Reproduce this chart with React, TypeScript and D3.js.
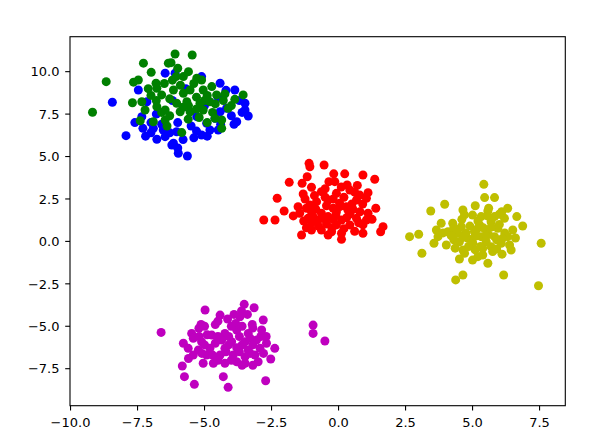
import React from "react";
import * as d3 from "d3";

const bluePoints: [number, number][] = [
  [-7.47, 8.92], [-8.44, 8.2], [-7.93, 6.23], [-7.3, 6.66], [-6.78, 6.02], [-6.47, 6.17],
  [-6.22, 5.68], [-6.47, 9.91], [-7.15, 8.23], [-7.34, 7.35], [-6.91, 6.66], [-6.54, 6.56],
  [-6.1, 9.91], [-5.11, 9.71], [-4.42, 9.32], [-3.87, 8.92], [-3.49, 8.14], [-3.49, 7.74],
  [-3.37, 7.39], [-3.8, 7.05], [-4.18, 7.84], [-4.42, 7.64], [-5.29, 7.35], [-4.92, 6.96],
  [-4.49, 6.56], [-5.11, 6.27], [-6.04, 6.46], [-6.16, 5.78], [-5.98, 5.19], [-5.64, 5.03],
  [-4.61, 7.25], [-4.8, 6.56], [-6.8, 7.5], [-6.0, 7.0], [-5.5, 6.8], [-5.0, 8.0],
  [-4.5, 8.5], [-6.2, 8.3], [-5.7, 9.0], [-7.0, 7.0], [-5.3, 6.5], [-4.0, 7.4],
  [-7.0, 6.4], [-6.6, 6.9], [-6.3, 6.4], [-5.8, 6.0], [-5.4, 6.1], [-4.9, 6.2],
  [-4.4, 6.9], [-3.9, 6.9], [-3.6, 7.6], [-3.7, 8.3], [-4.2, 8.9], [-7.6, 7.0],
  [-7.2, 6.2], [-6.0, 5.5],
];

const greenPoints: [number, number][] = [
  [-7.28, 10.5], [-6.99, 9.96], [-6.35, 10.5], [-6.25, 10.53], [-6.1, 11.04], [-8.67, 9.41],
  [-7.65, 9.38], [-7.47, 9.51], [-6.81, 9.32], [-6.78, 9.02], [-7.69, 8.17], [-7.34, 8.23],
  [-7.22, 7.74], [-9.18, 7.61], [-7.4, 7.11], [-6.91, 7.05], [-6.47, 7.15], [-6.78, 7.94],
  [-6.47, 7.74], [-6.6, 8.63], [-5.46, 10.98], [-6.06, 9.71], [-5.79, 9.71], [-5.29, 9.61],
  [-5.11, 9.51], [-4.73, 9.12], [-4.24, 8.69], [-3.87, 8.37], [-3.56, 8.63], [-6.16, 8.92],
  [-5.79, 8.73], [-5.54, 8.92], [-5.05, 8.92], [-4.55, 8.63], [-6.04, 8.14], [-5.66, 8.23],
  [-5.17, 8.14], [-4.8, 8.23], [-4.12, 7.84], [-5.91, 7.64], [-5.54, 7.64], [-5.05, 7.74],
  [-4.61, 7.25], [-4.36, 7.15], [-4.36, 6.66], [-5.61, 7.2], [-5.85, 6.41], [-6.3, 8.4],
  [-6.5, 9.3], [-5.9, 9.2], [-5.3, 8.5], [-5.0, 8.3], [-4.6, 8.1], [-6.3, 7.4],
  [-5.2, 7.3], [-4.9, 7.0], [-7.0, 8.6], [-5.6, 8.0], [-6.8, 8.3], [-6.2, 9.5],
  [-5.4, 9.3], [-4.9, 8.6], [-4.3, 8.3], [-4.0, 8.0], [-6.6, 7.6], [-5.8, 7.9],
  [-5.3, 7.8], [-4.7, 7.6], [-6.0, 10.2], [-5.6, 10.0], [-7.1, 9.0], [-6.4, 6.8],
];

const redPoints: [number, number][] = [
  [-1.1, 4.6], [-1.07, 4.4], [-0.54, 4.5], [-0.18, 3.98], [0.23, 3.98], [0.91, 3.91],
  [1.35, 3.66], [-1.17, 3.81], [-1.84, 3.48], [-1.36, 3.42], [-0.36, 3.52], [-0.14, 3.52],
  [-1.01, 3.19], [0.32, 3.32], [0.42, 3.03], [-1.32, 2.79], [-0.64, 2.93], [-0.08, 2.83],
  [0.79, 2.73], [1.1, 2.87], [-2.29, 2.54], [-0.82, 2.34], [-0.39, 2.44], [0.04, 2.25],
  [0.67, 2.44], [1.04, 2.54], [-1.51, 2.04], [-1.07, 2.14], [-0.2, 1.95], [0.29, 2.04],
  [0.54, 1.89], [1.39, 1.95], [-2.03, 1.79], [-1.45, 1.66], [-1.01, 1.75], [-0.64, 1.66],
  [-0.08, 1.75], [0.42, 1.61], [1.1, 1.66], [-2.79, 1.26], [-2.37, 1.26], [-1.69, 1.5],
  [-1.14, 1.36], [-0.76, 1.26], [-0.39, 1.46], [0.11, 1.26], [0.67, 1.36], [1.04, 1.26],
  [-1.01, 1.1], [-0.45, 1.03], [-0.08, 0.97], [0.42, 0.97], [0.91, 0.97], [1.66, 0.87],
  [1.57, 0.57], [-1.38, 0.38], [-1.01, 0.67], [-0.64, 0.67], [-0.26, 0.57], [0.11, 0.48],
  [0.11, 0.12], [0.91, 0.48], [-0.39, 0.38], [-1.25, 2.5], [-0.9, 2.7], [-0.5, 2.6],
  [-0.2, 2.5], [0.2, 2.6], [0.6, 2.9], [0.9, 2.2], [-1.2, 1.95], [-0.85, 1.9],
  [-0.45, 2.1], [0.05, 2.05], [0.5, 2.2], [0.8, 1.75], [-1.3, 1.2], [-0.95, 1.45],
  [-0.55, 1.35], [-0.2, 1.3], [0.3, 1.4], [0.75, 1.1], [1.25, 1.3], [-1.2, 0.8],
  [-0.75, 0.9], [-0.25, 0.8], [0.2, 0.75], [0.6, 0.6], [-0.5, 3.1], [0.1, 3.2],
  [0.7, 3.3], [-0.1, 1.55], [0.35, 1.85],
];

const yellowPoints: [number, number][] = [
  [5.42, 3.36], [5.45, 2.58], [5.82, 2.58], [3.96, 2.19], [3.44, 1.79], [4.64, 1.85],
  [4.7, 1.56], [5.57, 1.79], [6.31, 1.95], [6.09, 1.75], [5.32, 1.46], [5.82, 1.46],
  [6.65, 1.46], [3.83, 1.07], [4.26, 1.07], [5.26, 0.97], [5.69, 1.16], [6.19, 1.36],
  [6.87, 0.91], [4.58, 0.87], [3.65, 0.67], [4.08, 0.57], [4.45, 0.48], [5.07, 0.57],
  [5.51, 0.67], [5.94, 0.77], [6.5, 0.67], [2.65, 0.28], [2.99, 0.42], [3.71, 0.28],
  [4.82, 0.18], [5.32, 0.28], [5.82, 0.28], [6.31, 0.28], [3.56, -0.11], [4.02, -0.21],
  [4.51, -0.02], [5.01, -0.11], [5.51, -0.02], [6.07, -0.11], [6.38, -0.21], [7.56, -0.11],
  [4.64, -0.51], [5.38, -0.41], [5.69, -0.31], [6.44, -0.51], [3.11, -0.7], [4.7, -0.7],
  [5.38, -0.8], [4.51, -1.04], [5.57, -1.29], [4.64, -1.98], [4.37, -2.27], [6.16, -1.98],
  [7.46, -2.61], [5.2, 1.2], [5.6, 0.4], [5.3, -0.3], [5.9, 0.1], [4.9, 0.9],
  [6.0, 1.0], [5.1, -0.5], [5.75, -0.6], [5.4, 0.8], [4.3, 0.1], [4.6, 1.3],
  [5.0, 1.55], [5.55, 1.5], [6.0, 1.6], [4.3, 0.8], [4.75, 0.5], [5.15, 0.7],
  [5.7, 0.85], [6.2, 0.5], [4.2, 0.35], [4.65, 0.25], [5.1, 0.3], [5.5, 0.35],
  [6.1, 0.15], [4.35, -0.4], [4.85, -0.3], [5.2, -0.9], [5.9, -0.45], [6.1, -0.75],
  [5.0, -1.1], [5.6, 1.95], [5.1, 2.1], [6.6, 0.2], [3.9, 0.5],
];

const magentaPoints: [number, number][] = [
  [-4.98, -4.04], [-3.52, -3.71], [-3.62, -4.1], [-3.68, -4.44], [-3.15, -3.91], [-4.42, -4.34],
  [-4.14, -4.57], [-2.81, -4.63], [-5.13, -4.89], [-5.21, -5.12], [-3.84, -4.83], [-3.22, -4.89],
  [-6.62, -5.36], [-0.95, -4.93], [-0.95, -5.42], [-0.51, -5.87], [-5.48, -5.42], [-5.42, -5.71],
  [-4.73, -5.52], [-4.24, -5.42], [-3.8, -5.22], [-3.37, -5.42], [-2.87, -5.22], [-5.79, -6.0],
  [-5.11, -5.91], [-4.36, -5.81], [-3.99, -5.91], [-3.49, -5.91], [-3.06, -5.81], [-2.69, -6.0],
  [-2.38, -6.3], [-5.61, -6.3], [-5.23, -6.4], [-4.8, -6.3], [-4.24, -6.3], [-3.8, -6.26],
  [-3.37, -6.4], [-2.93, -6.3], [-5.42, -6.69], [-4.92, -6.69], [-4.42, -6.69], [-3.93, -6.69],
  [-3.49, -6.79], [-3.12, -6.69], [-2.53, -6.93], [-5.05, -7.18], [-4.67, -7.18], [-4.24, -7.18],
  [-3.8, -7.09], [-3.49, -7.18], [-3.0, -7.09], [-5.83, -7.34], [-5.75, -7.97], [-5.38, -8.42],
  [-4.3, -7.97], [-4.12, -8.6], [-2.72, -8.21], [-5.0, -5.0], [-4.6, -4.9], [-4.0, -5.0],
  [-3.6, -5.0], [-3.2, -5.1], [-5.2, -5.6], [-4.9, -5.5], [-4.5, -5.6], [-4.1, -5.6],
  [-3.7, -5.6], [-3.3, -5.7], [-2.9, -5.6], [-5.0, -6.1], [-4.6, -6.0], [-4.1, -6.1],
  [-3.6, -6.1], [-3.2, -6.1], [-2.8, -6.6], [-5.1, -6.6], [-4.7, -6.7], [-4.2, -6.5],
  [-3.7, -6.5], [-3.3, -6.6], [-4.5, -7.0], [-4.0, -7.0], [-3.6, -7.3], [-3.2, -7.3],
  [-3.4, -4.3], [-3.9, -4.3], [-4.5, -4.7], [-5.6, -6.9], [-2.7, -5.6],
];

const series = [
  { name: "b", color: "#0000ff", points: bluePoints },
  { name: "g", color: "#008000", points: greenPoints },
  { name: "r", color: "#ff0000", points: redPoints },
  { name: "y", color: "#bfbf00", points: yellowPoints },
  { name: "m", color: "#bf00bf", points: magentaPoints },
];

const xTicks = [-10, -7.5, -5, -2.5, 0, 2.5, 5, 7.5];
const yTicks = [-7.5, -5, -2.5, 0, 2.5, 5, 7.5, 10];

const W = 605;
const H = 443;
const left = 70;
const right = 565.3;
const top = 36.7;
const bottom = 405.7;

export default function App() {
  const x = d3.scaleLinear().domain([-10.02, 8.46]).range([left, right]);
  const y = d3.scaleLinear().domain([-9.68, 12.06]).range([bottom, top]);
  const fmt = (v: number) => d3.format(".1f")(v).replace("-", "\u2212");
  const font = "'DejaVu Sans', sans-serif";
  return (
    <svg
      width={W}
      height={H}
      style={{ position: "absolute", left: 0, top: 0, background: "#fff" }}
    >
      <rect x={0} y={0} width={W} height={H} fill="#fff" />
      <defs>
        <clipPath id="plotclip">
          <rect x={left} y={top} width={right - left} height={bottom - top} />
        </clipPath>
      </defs>
      <g clipPath="url(#plotclip)">
        {series.map((s) => (
          <g key={s.name} fill={s.color}>
            {s.points.map((p, i) => (
              <circle key={i} cx={x(p[0])} cy={y(p[1])} r={4.5} />
            ))}
          </g>
        ))}
      </g>
      <rect
        x={left}
        y={top}
        width={right - left}
        height={bottom - top}
        fill="none"
        stroke="#000"
        strokeWidth={1.1}
      />
      {xTicks.map((t) => (
        <g key={"x" + t}>
          <line x1={x(t)} x2={x(t)} y1={bottom} y2={bottom + 4.8} stroke="#000" strokeWidth={1.1} />
          <text
            x={x(t)}
            y={426.5}
            textAnchor="middle"
            fontFamily={font}
            fontSize={13}
            fill="#000"
          >
            {fmt(t)}
          </text>
        </g>
      ))}
      {yTicks.map((t) => (
        <g key={"y" + t}>
          <line x1={left - 4.8} x2={left} y1={y(t)} y2={y(t)} stroke="#000" strokeWidth={1.1} />
          <text
            x={left - 10.5}
            y={y(t)}
            dy="0.36em"
            textAnchor="end"
            fontFamily={font}
            fontSize={13}
            fill="#000"
          >
            {fmt(t)}
          </text>
        </g>
      ))}
    </svg>
  );
}
